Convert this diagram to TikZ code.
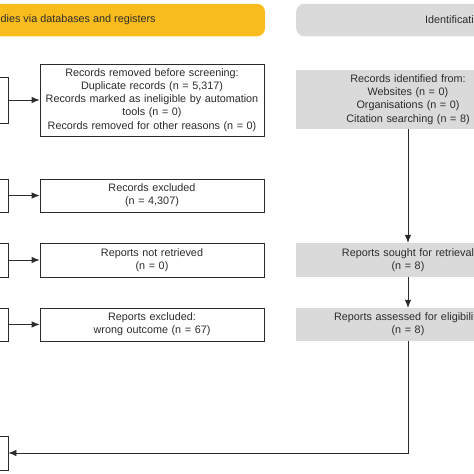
\documentclass[tikz,border=0pt]{standalone}
\usepackage{fontspec}
\setmainfont{Liberation Sans}
\usepackage{tikz}
\usetikzlibrary{arrows}
\usetikzlibrary{shapes,arrows.meta}
\definecolor{prismaorange}{HTML}{F8BC1D}
\definecolor{prismagrey}{HTML}{DADADA}
\definecolor{inkgrey}{HTML}{2B2B2B}
\tikzstyle{block} = [rectangle, draw=inkgrey, fill=white, text=inkgrey,
text width=220pt, text centered, inner sep=2pt, node distance=256pt, line width=0.8pt]
\tikzstyle{greyblock} = [rectangle, fill=prismagrey, text=inkgrey,
text width=220pt, text centered, inner sep=2pt, node distance=256pt]
\tikzstyle{header} = [rectangle, rounded corners=8pt, minimum height=32.5pt]
\tikzstyle{line} = [draw=inkgrey, -{Latex[length=8pt,width=6.5pt]}, line width=0.8pt]

\begin{document}
\begin{tikzpicture}[font=\fontsize{10.8}{13.2}\selectfont]
\useasboundingbox (0pt,0pt) rectangle (474pt,-474pt);
% Headers
	\node [header, fill=prismaorange, minimum width=481pt] (dbhead) at (24.5pt,-20pt) {};
	\node [anchor=west, inner sep=0pt, text=inkgrey] (dbtitle) at (0.5pt,-20pt) {dies via databases and registers};
	\node [header, fill=prismagrey, minimum width=480pt, anchor=west] (otherhead) at (296pt,-20pt) {};
	\node [anchor=west, inner sep=0pt, text=inkgrey] (othertitle) at (425pt,-20pt) {Identificati};

% Place nodes
	\node [block, minimum height=72pt] (removed) at (152pt,-100pt) {Records removed before screening:\\Duplicate records (n = 5,317)\\Records marked as ineligible by automation\\tools (n = 0)\\Records removed for other reasons (n = 0)};
	\node [block, left of=removed, minimum height=46pt] (identdb) {};
	\node [block, below of=removed, node distance=95.5pt, minimum height=33pt] (excluded) {Records excluded\\(n = 4,307)};
	\node [block, left of=excluded, minimum height=33pt] (screened) {};
	\node [block, below of=excluded, node distance=64.5pt, minimum height=34pt] (notretr) {Reports not retrieved\\(n = 0)};
	\node [block, left of=notretr, minimum height=34pt] (soughtdb) {};
	\node [block, below of=notretr, node distance=64.5pt, minimum height=33pt] (rexcl) {Reports excluded:\\wrong outcome (n = 67)};
	\node [block, left of=rexcl, minimum height=33pt] (assessdb) {};
	\node [block, below of=assessdb, node distance=128.5pt, minimum height=34pt] (included) {};
	\node [greyblock, right of=removed, minimum height=59pt, yshift=0.5pt] (identother) {Records identified from:\\Websites (n = 0)\\Organisations (n = 0)\\Citation searching (n = 8)};
	\node [greyblock, right of=notretr, minimum height=34pt] (soughtother) {Reports sought for retrieval\\(n = 8)};
	\node [greyblock, right of=rexcl, minimum height=33pt] (assessother) {Reports assessed for eligibility\\(n = 8)};

% Draw edges
	\path [line] (identdb) -- (removed);
	\path [line] (screened) -- (excluded);
	\path [line] (soughtdb) -- (notretr);
	\path [line] (assessdb) -- (rexcl);
	\path [line] (identother) -- (soughtother);
	\path [line] (soughtother) -- (assessother);
	\path [line] (assessother) |- (included);

\end{tikzpicture}
\end{document}
